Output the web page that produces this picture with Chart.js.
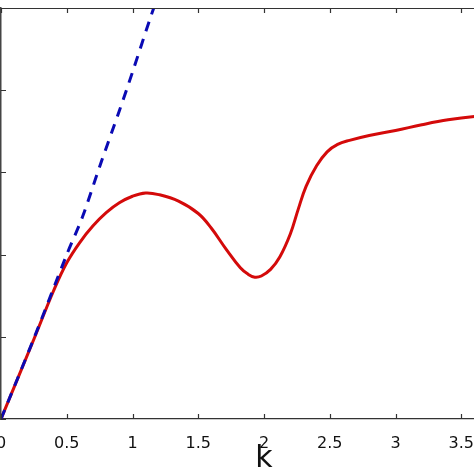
<!DOCTYPE html>
<html>
<head>
<meta charset="utf-8">
<script src="https://cdn.jsdelivr.net/npm/chart.js@4"></script>
<style>
  html, body { margin: 0; padding: 0; background: #fff; overflow: hidden; }
  #grafica { position: absolute; left: -60px; top: 0; }
</style>
</head>
<body>
<canvas id="grafica" width="620" height="474"></canvas>
<script>
// red curve (full dispersion)
const kRed = [0, 0.25, 0.4, 0.5, 0.6, 0.7, 0.8, 0.9, 1.0, 1.1, 1.2, 1.35, 1.5, 1.6, 1.71, 1.82, 1.88, 1.93,
              1.98, 2.05, 2.12, 2.2, 2.26, 2.32, 2.4, 2.48, 2.56, 2.65, 2.8, 3.0, 3.2, 3.4, 3.6, 3.8, 4.0];
const wRed = [0, 0.97, 1.56, 1.90, 2.15, 2.35, 2.51, 2.63, 2.71, 2.75, 2.73, 2.65, 2.50, 2.32, 2.07, 1.84, 1.76, 1.725,
              1.74, 1.82, 1.97, 2.25, 2.55, 2.83, 3.08, 3.25, 3.34, 3.39, 3.45, 3.51, 3.58, 3.64, 3.68, 3.70, 3.71];

// blue dashed curve (small-k approximation)
const kBlue = [0, 0.25, 0.5, 0.62, 0.75, 0.9, 1.0, 1.14, 1.25];
const wBlue = [0, 0.98, 2.0, 2.46, 3.07, 3.75, 4.22, 4.90, 5.4];

const xTickStep = 0.5;
const yTickStep = 1;

const toPoints = (xs, ys) => xs.map((x, i) => ({ x: x, y: ys[i] }));

const dataset1 = {
    label: "approx",
    data: toPoints(kBlue, wBlue),
    borderColor: '#0a0ab4',
    borderWidth: 3,
    borderDash: [10, 8],
    pointRadius: 0,
    fill: false,
    tension: 0.3,
    order: 0
};

const dataset2 = {
    label: "omega",
    data: toPoints(kRed, wRed),
    borderColor: '#d40a0a',
    borderWidth: 3,
    pointRadius: 0,
    fill: false,
    tension: 0.4,
    order: 1
};

// inward tick marks + top frame line
const frameTicks = {
    id: 'frameTicks',
    afterDraw(chart) {
        const { ctx, chartArea: a, scales } = chart;
        ctx.save();
        ctx.strokeStyle = '#333';
        ctx.lineWidth = 1.2;
        ctx.beginPath();
        scales.x.ticks.forEach(t => {
            const px = Math.round(scales.x.getPixelForValue(t.value)) + 0.5;
            ctx.moveTo(px, a.bottom); ctx.lineTo(px, a.bottom - 5);
            ctx.moveTo(px, a.top); ctx.lineTo(px, a.top + 5);
        });
        scales.y.ticks.forEach(t => {
            const py = Math.round(scales.y.getPixelForValue(t.value)) + 0.5;
            ctx.moveTo(a.left, py); ctx.lineTo(a.left + 5, py);
        });
        ctx.moveTo(a.left, a.top + 0.5); ctx.lineTo(a.right, a.top + 0.5);
        ctx.stroke();
        ctx.restore();
    }
};

const graph = document.querySelector("#grafica");

const config = {
    type: 'line',
    data: { datasets: [dataset1, dataset2] },
    options: {
        responsive: false,
        animation: false,
        layout: { padding: { left: 0, right: 33, top: 8, bottom: 0 } },
        plugins: { legend: { display: false }, tooltip: { enabled: false } },
        scales: {
            x: {
                type: 'linear',
                min: 0,
                max: 4,
                grid: { display: false },
                border: { display: true, color: '#333', width: 1.2 },
                ticks: {
                    stepSize: xTickStep,
                    padding: 7,
                    color: '#111',
                    font: { family: 'DejaVu Sans', size: 16 },
                    callback: v => String(Math.round(v * 10) / 10)
                },
                title: {
                    display: true,
                    text: 'k',
                    color: '#111',
                    padding: { top: 0, bottom: 0 },
                    font: { family: 'DejaVu Sans', size: 30, lineHeight: 1 }
                },
                afterFit(scale) { scale.height = 55; }
            },
            y: {
                min: 0,
                max: 5,
                grid: { display: false },
                border: { display: true, color: '#444', width: 1.5 },
                ticks: { stepSize: yTickStep, display: false },
                afterFit(scale) { scale.width = 61; }
            }
        }
    },
    plugins: [frameTicks]
};

new Chart(graph, config);
</script>
</body>
</html>
